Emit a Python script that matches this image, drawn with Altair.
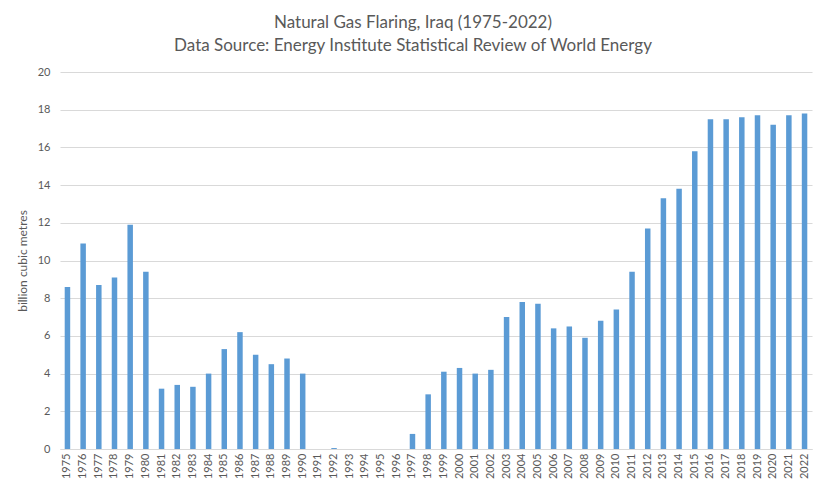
import altair as alt
import pandas as pd

years = list(range(1975, 2023))
flaring = [
    8.6, 10.9, 8.7, 9.1, 11.9, 9.4, 3.2, 3.4, 3.3, 4.0,
    5.3, 6.2, 5.0, 4.5, 4.8, 4.0, 0.0, 0.05, 0.0, 0.0,
    0.0, 0.0, 0.8, 2.9, 4.1, 4.3, 4.0, 4.2, 7.0, 7.8,
    7.7, 6.4, 6.5, 5.9, 6.8, 7.4, 9.4, 11.7, 13.3, 13.8,
    15.8, 17.5, 17.5, 17.6, 17.7, 17.2, 17.7, 17.8,
]

data = pd.DataFrame({"year": [str(y) for y in years], "bcm": flaring})

grey = "#595959"
font = "Lato"

chart = alt.Chart(data).mark_bar(color="#5B9BD5").encode(
    x=alt.X(
        "year:N",
        title=None,
        sort=None,
        scale=alt.Scale(paddingInner=0.65, paddingOuter=0.3),
        axis=alt.Axis(
            labelAngle=-90,
            labelFontSize=11,
            labelColor=grey,
            labelFont=font,
            labelPadding=4,
            ticks=False,
            domainColor="#D9D9D9",
            grid=False,
        ),
    ),
    y=alt.Y(
        "bcm:Q",
        title="billion cubic metres",
        scale=alt.Scale(domain=[0, 20], nice=False),
        axis=alt.Axis(
            values=list(range(0, 21, 2)),
            labelFontSize=11,
            labelColor=grey,
            labelFont=font,
            labelPadding=10,
            titleFontSize=12,
            titleFont=font,
            titleColor=grey,
            titleFontWeight="normal",
            titlePadding=8,
            ticks=False,
            domain=False,
            gridColor="#D9D9D9",
        ),
    ),
).properties(
    width=752,
    height=377,
    autosize=alt.AutoSizeParams(type="none"),
    padding={"left": 52, "top": 64, "right": 7, "bottom": 33},
    title=alt.TitleParams(
        text=[
            "Natural Gas Flaring, Iraq (1975-2022)",
            "Data Source: Energy Institute Statistical Review of World Energy",
        ],
        font=font,
        fontSize=17,
        fontWeight="normal",
        color=grey,
        anchor="middle",
        lineHeight=23,
        dx=-23,
        offset=11,
    ),
).configure_view(stroke=None)

chart.save("out.html", embed_options={"renderer": "svg", "actions": False})
